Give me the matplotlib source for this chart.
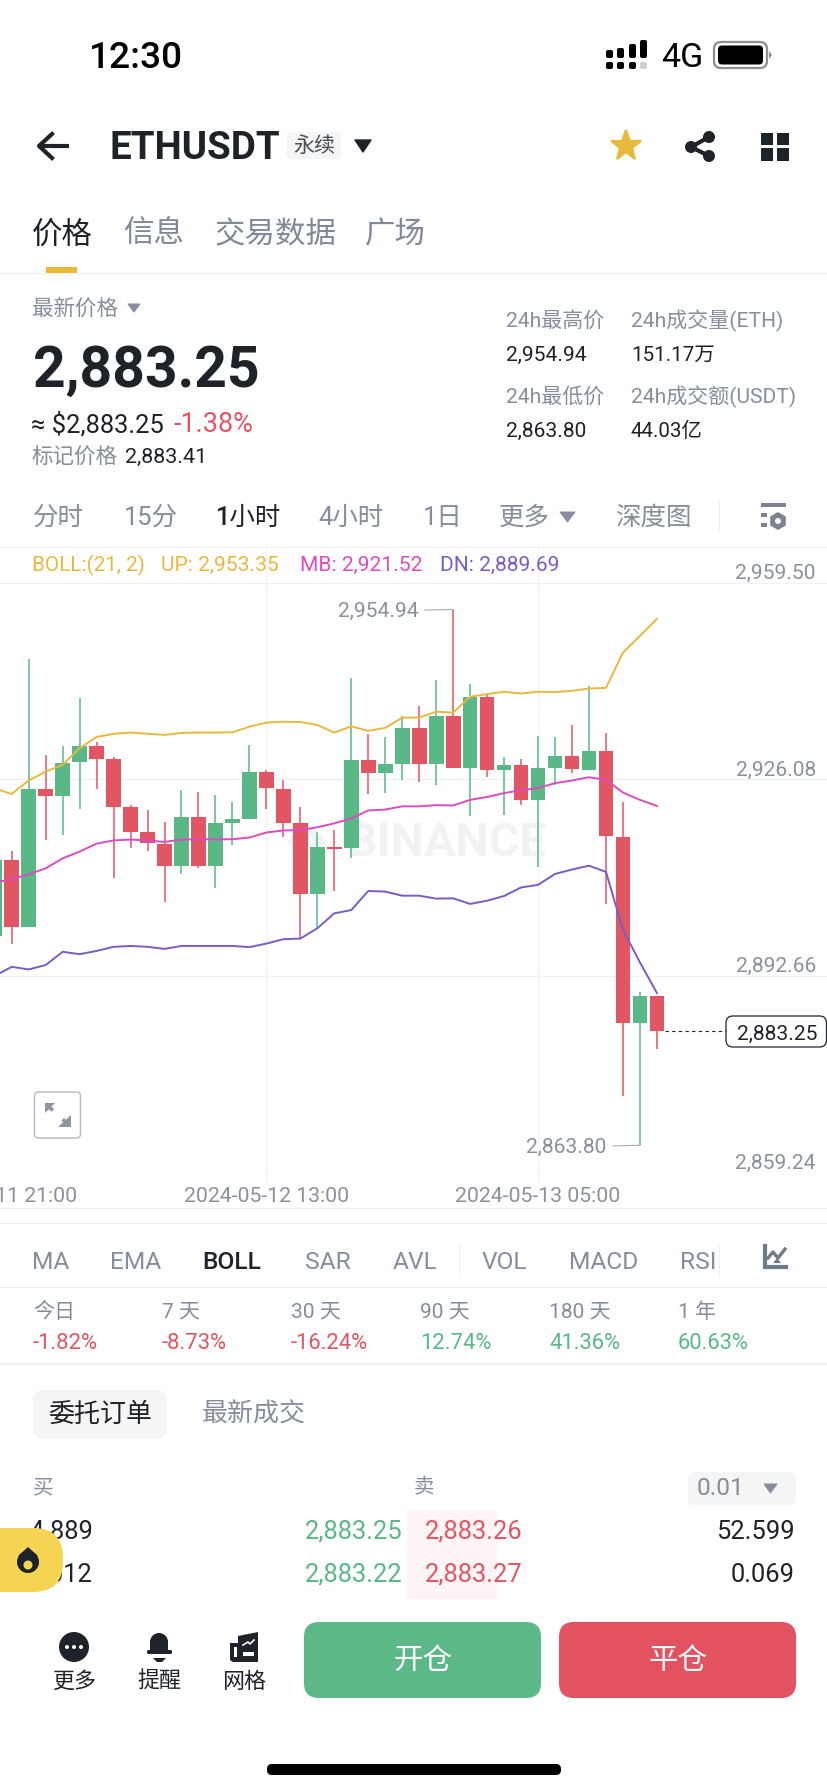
import matplotlib
matplotlib.use('Agg')
import matplotlib.pyplot as plt
from matplotlib.patches import Circle, FancyBboxPatch, Polygon, Rectangle, RegularPolygon
import numpy as np

plt.rcParams['font.family'] = ['Roboto', 'Noto Sans CJK SC', 'DejaVu Sans']

# candles, 1h, oldest first
opens = [2899.4, 2912.35, 2900.85, 2924.4, 2923.15, 2928.95, 2931.75, 2929.5, 2921.4, 2917.1,
         2915.05, 2911.25, 2919.7, 2911.3, 2918.65, 2919.35, 2927.35, 2924.45, 2918.7, 2906.5,
         2914.6, 2914.4, 2929.35, 2927.1, 2928.65, 2934.8, 2928.6, 2936.75, 2928.0, 2940.05,
         2927.7, 2928.55, 2922.5, 2928.05, 2930.0, 2927.7, 2930.95, 2916.3, 2884.55, 2889.2]
highs = [2912.35, 2913.85, 2946.5, 2930.2, 2931.75, 2939.95, 2932.45, 2929.9, 2921.6, 2920.85,
         2918.85, 2924.25, 2923.9, 2923.45, 2922.2, 2931.9, 2927.65, 2925.85, 2921.4, 2917.1,
         2917.45, 2943.35, 2933.7, 2933.25, 2936.9, 2938.6, 2942.95, 2954.94, 2942.2, 2940.5,
         2929.9, 2929.45, 2933.35, 2933.2, 2935.3, 2942.0, 2934.0, 2922.25, 2889.85, 2889.2]
lows = [2899.4, 2898.0, 2900.85, 2915.65, 2916.6, 2921.0, 2924.35, 2909.3, 2914.3, 2913.8,
        2905.1, 2909.9, 2910.9, 2907.5, 2914.85, 2919.35, 2920.95, 2916.15, 2898.9, 2900.7,
        2907.1, 2912.6, 2923.6, 2923.75, 2925.95, 2925.65, 2925.0, 2928.0, 2919.8, 2926.45,
        2920.05, 2921.6, 2911.05, 2925.0, 2927.1, 2927.7, 2904.9, 2872.2, 2863.8, 2880.25]
closes = [2912.35, 2900.85, 2924.4, 2923.15, 2928.9, 2931.75, 2929.55, 2921.4, 2917.1, 2915.15,
          2911.25, 2919.7, 2911.25, 2918.55, 2919.3, 2927.35, 2924.55, 2918.7, 2906.5, 2914.6,
          2914.25, 2929.35, 2927.1, 2928.6, 2934.8, 2928.6, 2936.75, 2928.0, 2940.05, 2927.65,
          2928.55, 2922.5, 2928.05, 2930.0, 2927.75, 2930.95, 2916.35, 2884.55, 2889.2, 2883.25]

boll_up = [2924.5, 2923.55, 2925.85, 2927.35, 2928.5, 2931.35, 2933.25, 2933.8, 2934.0, 2933.8,
           2933.6, 2933.95, 2934.0, 2934.0, 2934.05, 2935.0, 2935.7, 2935.85, 2935.8, 2935.3,
           2934.0, 2935.05, 2934.3, 2934.8, 2936.55, 2936.55, 2937.55, 2937.4, 2940.1, 2940.55,
           2940.95, 2940.65, 2940.95, 2940.9, 2941.1, 2941.5, 2941.6, 2947.6, 2950.45, 2953.35]
boll_mb = [2908.5, 2909.05, 2909.9, 2910.9, 2912.6, 2913.75, 2915.1, 2915.65, 2915.8, 2915.65,
           2915.4, 2915.8, 2915.85, 2915.85, 2915.85, 2916.15, 2917.0, 2917.35, 2917.4, 2917.9,
           2918.55, 2919.4, 2920.75, 2920.9, 2921.45, 2921.45, 2921.65, 2921.6, 2922.55, 2923.05,
           2923.7, 2924.2, 2924.55, 2925.4, 2925.85, 2926.4, 2925.95, 2923.8, 2922.55, 2921.52]
boll_dn = [2892.6, 2894.15, 2893.7, 2894.45, 2896.7, 2896.3, 2896.85, 2897.55, 2897.7, 2897.55,
           2897.2, 2897.7, 2897.7, 2897.7, 2897.7, 2897.5, 2898.1, 2898.85, 2898.95, 2900.7,
           2903.25, 2903.8, 2907.05, 2906.95, 2906.25, 2906.25, 2905.75, 2905.8, 2904.85, 2905.4,
           2906.2, 2907.65, 2908.1, 2909.95, 2910.7, 2911.35, 2910.3, 2900.45, 2894.9, 2889.69]

price_ticks = [2959.50, 2926.08, 2892.66, 2859.24]
time_ticks = [0, 16, 32]
time_labels = ['2024-05-11 21:00', '2024-05-12 13:00', '2024-05-13 05:00']

top_tabs = ['价格', '信息', '交易数据', '广场']
top_tab_x = [32, 123, 215, 365]
intervals = ['分时', '15分', '1小时', '4小时', '1日', '更多', '深度图']
interval_x = [33, 124, 216, 318, 423, 499, 615]
indicators = ['MA', 'EMA', 'BOLL', 'SAR', 'AVL', 'VOL', 'MACD', 'RSI']
indicator_x = [32, 110, 202, 305, 393, 482, 569, 680]
period_names = ['今日', '7 天', '30 天', '90 天', '180 天', '1 年']
period_changes = ['-1.82%', '-8.73%', '-16.24%', '12.74%', '41.36%', '60.63%']
period_x = [33, 162, 291, 420, 549, 678]
book_rows = [('4.889', '2,883.25', '2,883.26', '52.599'), ('0.012', '2,883.22', '2,883.27', '0.069')]

DARK = '#1E2329'
GREY = '#848E9C'
LABEL = '#8A919D'
RED = '#E25563'
GREEN = '#5AB887'
LINE = '#EEF0F3'
YELLOW = '#E9B93B'
UP_COL = '#E8B93F'
MB_COL = '#DC4CBE'
DN_COL = '#7B5CC4'
AXIS_PX = 21

W, H = 828, 1792
fig = plt.figure(figsize=(W / 100, H / 100), dpi=100)

# whole page in pixel coordinates
ui = fig.add_axes([0, 0, 1, 1], zorder=0)
ui.set_xlim(0, W)
ui.set_ylim(H, 0)
ui.axis('off')


def t(x, y, s, px, color=DARK, ha='left', weight='normal', **kw):
    # va center sits a little high for this font mix
    return ui.text(x, y + 0.1 * px, s, fontsize=px * 0.72, color=color, ha=ha, va='center',
                   fontweight=weight, zorder=5, **kw)


def hline(y, x0=0, x1=W, lw=1.0, color=LINE):
    ui.plot([x0, x1], [y, y], color=color, lw=lw * 0.72, zorder=1, solid_capstyle='butt')


def box(x0, y0, x1, y1, r, **kw):
    p = FancyBboxPatch((x0 + r, y0 + r), x1 - x0 - 2 * r, y1 - y0 - 2 * r,
                       boxstyle=f'round,pad={r},rounding_size={r}', **kw)
    ui.add_patch(p)
    return p


def poly(points, color, zorder=4, lw=0, **kw):
    ui.add_patch(Polygon(points, closed=True, facecolor=color, edgecolor=color, lw=lw,
                         joinstyle='round', zorder=zorder, **kw))


# status bar
t(89, 55, '12:30', 37, '#000000', weight='medium')
t(661, 55, '4G', 34, '#000000')
signal_tops = [50, 48, 44, 40]
for i, sx in enumerate([606, 617, 629, 640]):
    box(sx, signal_tops[i], sx + 7, 58, 2, color='#000000', lw=0, zorder=4)
    box(sx, 62, sx + 7, 69, 2, color='#000000' if i < 3 else '#CFCFCF', lw=0, zorder=4)
box(714, 42, 767, 68, 7, facecolor='white', edgecolor='#8E8E8E', lw=1.6, zorder=3)
box(718, 45.5, 763, 64.5, 4, color='#000000', lw=0, zorder=4)
poly([(769, 51), (772, 55), (769, 59)], '#8E8E8E')

# header
ui.plot([69, 40], [146, 146], color=DARK, lw=3, zorder=4, solid_capstyle='butt')
ui.plot([52, 39, 52], [134, 146, 158], color=DARK, lw=3, zorder=4)
t(110, 144.5, 'ETHUSDT', 38.5, DARK, weight='bold')
box(287, 132, 341, 159, 4, color='#F5F5F5', lw=0, zorder=2)
t(314, 144, '永续', 21, '#474D57', ha='center')
poly([(355, 140), (371, 140), (363, 152)], DARK, lw=1)
ui.plot([626], [146], marker='*', ms=23, color=YELLOW, mec=YELLOW, mew=1.5, zorder=4)
ui.plot([709, 691, 709], [137, 147, 156], color=DARK, lw=3, zorder=4)
for cx, cy in [(709, 137), (691, 147), (709, 156)]:
    ui.add_patch(Circle((cx, cy), 6, color=DARK, lw=0, zorder=4))
for gx in [761, 777]:
    for gy in [133, 148.5]:
        ui.add_patch(Rectangle((gx, gy), 12.5, 12.5, color=DARK, lw=0, zorder=4))

# tabs
for i, (name, tx) in enumerate(zip(top_tabs, top_tab_x)):
    t(tx, 232, name, 30.5, DARK if i == 0 else '#7F8997', weight='medium' if i == 0 else 'normal')
ui.add_patch(Rectangle((46, 267), 31, 6, color=YELLOW, lw=0, zorder=3))
hline(273.5, lw=1.3)

# price block
t(32, 306, '最新价格', 21.5, GREY)
poly([(128, 304), (140, 304), (134, 312)], GREY, lw=0.7)
t(33, 366, '2,883.25', 57, DARK, weight='bold')
t(31.5, 422, '≈ $2,883.25', 25.5, DARK)
t(174, 422, '-1.38%', 27, RED)
t(32, 455, '标记价格', 21.5, GREY)
t(125, 455, '2,883.41', 21.5, DARK)
t(506, 319, '24h最高价', 21, GREY)
t(631, 319, '24h成交量(ETH)', 21, GREY)
t(506, 353, '2,954.94', 21, DARK)
t(631, 353, '151.17万', 20.5, DARK)
t(506, 395, '24h最低价', 21, GREY)
t(631, 395, '24h成交额(USDT)', 21, GREY)
t(506, 429, '2,863.80', 21, DARK)
t(631, 429, '44.03亿', 20.5, DARK)

# interval row
for name, tx in zip(intervals, interval_x):
    active = name == '1小时'
    t(tx, 515, name, 25.5, DARK if active else GREY, weight='medium' if active else 'normal')
poly([(560, 512), (575, 512), (567.5, 522)], GREY, lw=0.7)
ui.plot([719, 719], [500, 531], color=LINE, lw=0.8, zorder=1)
ui.add_patch(Rectangle((761, 503), 25, 4, color='#7A8391', lw=0, zorder=4))
ui.add_patch(Rectangle((761, 513), 6, 4, color='#7A8391', lw=0, zorder=4))
ui.add_patch(Rectangle((761, 523), 6, 4, color='#7A8391', lw=0, zorder=4))
ui.add_patch(RegularPolygon((778, 521), 6, radius=9, color='#7A8391', lw=0, zorder=4))
ui.add_patch(Circle((778, 521), 3, color='white', lw=0, zorder=5))

# indicator legend
hline(547)
t(32, 563, 'BOLL:(21, 2)', 20.6, UP_COL)
t(161, 563, 'UP: 2,953.35', AXIS_PX, UP_COL)
t(300, 563, 'MB: 2,921.52', AXIS_PX, MB_COL)
t(440, 563, 'DN: 2,889.69', AXIS_PX, DN_COL)

# watermark under the candles
t(347, 838, 'BINANCE', 47, '#F1F2F3', weight='bold')
ui.add_patch(RegularPolygon((307, 842), 4, radius=20, color='#F1F2F3', lw=0, zorder=1))
ui.add_patch(RegularPolygon((307, 842), 4, radius=7, color='white', lw=0, zorder=2))

# chart, x in candle numbers, y in price
px_per_bar = 16.98
x_first = -5.3
chart_top, chart_bot = 582.7, 1172.0
ax = fig.add_axes([0, 1 - chart_bot / H, 1, (chart_bot - chart_top) / H], zorder=1)
ax.patch.set_alpha(0)
for side in ax.spines.values():
    side.set_visible(False)
ax.set_yticks(price_ticks)
ax.set_yticklabels([])
ax.set_xticks([])
# limits after the ticks, set_xticks widens the view otherwise
ax.set_xlim((0 - x_first) / px_per_bar, (W - x_first) / px_per_bar)
ax.set_ylim(price_ticks[-1], price_ticks[0])
ax.tick_params(axis='both', length=0)
ax.grid(axis='y', color=LINE, lw=0.9)
ax.set_axisbelow(True)

# time labels by hand, the first tick is left of the view and a real tick would be dropped
for tick, label in zip(time_ticks, time_labels):
    ax.annotate(label, xy=(tick, 0), xycoords=('data', 'axes fraction'), xytext=(0, -18),
                textcoords='offset points', ha='center', va='center', fontsize=21.3 * 0.72,
                color=LABEL, annotation_clip=False)
    # grid line sits on the page axes so it stays behind the legend text
    line_x = x_first + tick * px_per_bar
    ui.plot([line_x, line_x], [547, 1183], color='#F1F2F5', lw=0.9, zorder=0)

x = np.arange(len(opens))
opens, highs, lows, closes = map(np.array, (opens, highs, lows, closes))
is_up = closes >= opens
colors = [GREEN if u else RED for u in is_up]
ax.vlines(x, lows, highs, colors=colors, lw=1.1, zorder=2)
ax.bar(x, np.abs(closes - opens), bottom=np.minimum(opens, closes), width=0.865,
       color=colors, lw=0, zorder=2)

ax.plot(x, boll_up, color=UP_COL, lw=1.4, zorder=3)
ax.plot(x, boll_mb, color=MB_COL, lw=1.4, zorder=3)
ax.plot(x, boll_dn, color=DN_COL, lw=1.4, zorder=3)

for price in price_ticks:
    ax.annotate(f'{price:,.2f}', xy=(816 / W, price), xycoords=('axes fraction', 'data'),
                xytext=(0, 6.5), textcoords='offset points', ha='right', va='center',
                fontsize=AXIS_PX * 0.72, color=LABEL, annotation_clip=False)

# extremes and last price
arrow = dict(arrowstyle='-', color='#A7ADB7', lw=0.8, shrinkA=2.5, shrinkB=0)
i_hi, i_lo = int(np.argmax(highs)), int(np.argmin(lows))
ax.annotate(f'{highs[i_hi]:,.2f}', xy=(i_hi, highs[i_hi]), xytext=(-25, -1), textcoords='offset points',
            ha='right', va='center', fontsize=AXIS_PX * 0.72, color=LABEL, arrowprops=arrow)
ax.annotate(f'{lows[i_lo]:,.2f}', xy=(i_lo, lows[i_lo]), xytext=(-24, -1.5), textcoords='offset points',
            ha='right', va='center', fontsize=AXIS_PX * 0.72, color=LABEL, arrowprops=arrow)
ax.plot([39.45, 43.07], [closes[-1], closes[-1]], color=DARK, lw=0.8, ls=(0, (3, 3)), zorder=2)
ax.annotate(f'{closes[-1]:,.2f}', xy=(777 / W, closes[-1]), xycoords=('axes fraction', 'data'),
            ha='center', va='center', xytext=(0, -2.5), textcoords='offset points',
            fontsize=AXIS_PX * 0.72, color=DARK, annotation_clip=False, zorder=6)
box(726, 1016, 826.5, 1047, 7, facecolor='white', edgecolor=DARK, lw=0.9, zorder=1)

# expand button
box(34.5, 1092, 80.5, 1138, 4, facecolor='white', edgecolor='#B4B9C2', lw=1.0, zorder=3)
poly([(45, 1103), (55, 1103), (45, 1113)], '#8F96A3')
poly([(71, 1127), (58, 1127), (71, 1115)], '#8F96A3')
ui.plot([48, 68], [1106, 1124], color='#8F96A3', lw=2.6, zorder=4)
ui.plot([55, 61], [1112, 1117.5], color='white', lw=3.6, zorder=4)

# indicator tabs
hline(1208.5)
hline(1223.5, lw=1.3)
for name, tx in zip(indicators, indicator_x):
    active = name == 'BOLL'
    t(tx, 1260, name, 24.5, DARK if active else GREY, weight='medium' if active else 'normal')
ui.add_patch(Rectangle((719, 1240), 10, 40, color='white', lw=0, zorder=6))
ui.plot([459, 459], [1245, 1276], color=LINE, lw=0.8, zorder=1)
ui.plot([719, 719], [1245, 1276], color=LINE, lw=0.8, zorder=7)
ui.plot([765, 765, 786], [1246, 1267, 1267], color='#6F7A8A', lw=3, zorder=4, solid_joinstyle='miter')
ui.plot([768, 773, 778, 785], [1258, 1252, 1258, 1249], color='#6F7A8A', lw=2.4, zorder=4)
poly([(773, 1263), (781, 1263), (777, 1258)], '#6F7A8A')
hline(1287.5, lw=1.3)

# period changes
for name, change, tx in zip(period_names, period_changes, period_x):
    t(tx, 1310, name, 21, GREY)
    t(tx, 1341, change, 22, RED if change.startswith('-') else GREEN)
hline(1364, lw=2.5)

# order book
box(33, 1390, 167, 1439, 11, color='#F5F5F5', lw=0, zorder=2)
t(100, 1412, '委托订单', 26, DARK, ha='center', weight='medium')
t(202, 1412, '最新成交', 26, GREY)
t(33, 1486, '买', 20.5, GREY)
t(414, 1486, '卖', 20.5, GREY)
box(688, 1472, 796, 1505, 6, color='#F5F5F5', lw=0, zorder=2)
t(697, 1486, '0.01', 24.5, GREY)
poly([(764, 1484), (777, 1484), (770.5, 1493)], GREY, lw=0.7)
ui.add_patch(Rectangle((407, 1510), 90, 89, color='#FDF4F5', lw=0, zorder=1))
for row_y, (bid_qty, bid, ask, ask_qty) in zip([1529, 1572], book_rows):
    t(93, row_y, bid_qty, 25.5, DARK, ha='right')
    t(403, row_y, bid, 25.5, GREEN, ha='right')
    t(425, row_y, ask, 25.5, RED)
    t(795, row_y, ask_qty, 25.5, DARK, ha='right')
box(-40, 1528, 63, 1592, 30, color='#F5D453', lw=0, zorder=6)
ui.add_patch(Circle((28, 1562), 11, color=DARK, lw=0, zorder=7))
poly([(28, 1547), (18, 1556), (38, 1556)], DARK, zorder=7)
ui.add_patch(Circle((28, 1565), 4.5, color='#F5D453', lw=0, zorder=8))

# bottom bar
ui.add_patch(Circle((74, 1647), 15, color=DARK, lw=0, zorder=4))
for dx in [-7, 0, 7]:
    ui.add_patch(Circle((74 + dx, 1647), 2, color='white', lw=0, zorder=5))
ui.add_patch(Circle((159, 1642), 9, color=DARK, lw=0, zorder=4))
ui.add_patch(Rectangle((150, 1642), 18, 10, color=DARK, lw=0, zorder=4))
box(147, 1650, 172, 1654, 1.5, color=DARK, lw=0, zorder=4)
poly([(153, 1658), (166, 1658), (162, 1662), (157, 1662)], DARK)
poly([(238, 1643), (238, 1636), (258, 1632), (258, 1662), (233, 1662), (230, 1660), (230, 1643)], DARK)
ui.add_patch(Rectangle((234, 1647), 3.5, 10, color='white', lw=0, zorder=5))
ui.add_patch(Rectangle((243, 1652), 11, 4, color='white', lw=0, zorder=5))
ui.plot([243, 248, 250, 254], [1645, 1642, 1644, 1640], color='white', lw=1.2, zorder=5)
for name, tx in zip(['更多', '提醒', '网格'], [74, 159, 244]):
    t(tx, 1680, name, 22, DARK, ha='center')
box(304, 1622, 541, 1698, 15, color='#5CB987', lw=0, zorder=2)
box(559, 1622, 796, 1698, 15, color='#E25260', lw=0, zorder=2)
t(422.5, 1658, '开仓', 29.5, 'white', ha='center')
t(677.5, 1658, '平仓', 29.5, 'white', ha='center')
box(267, 1764, 561, 1775, 5, color='#000000', lw=0, zorder=2)

fig.savefig('out.png', dpi=100, facecolor='white')
